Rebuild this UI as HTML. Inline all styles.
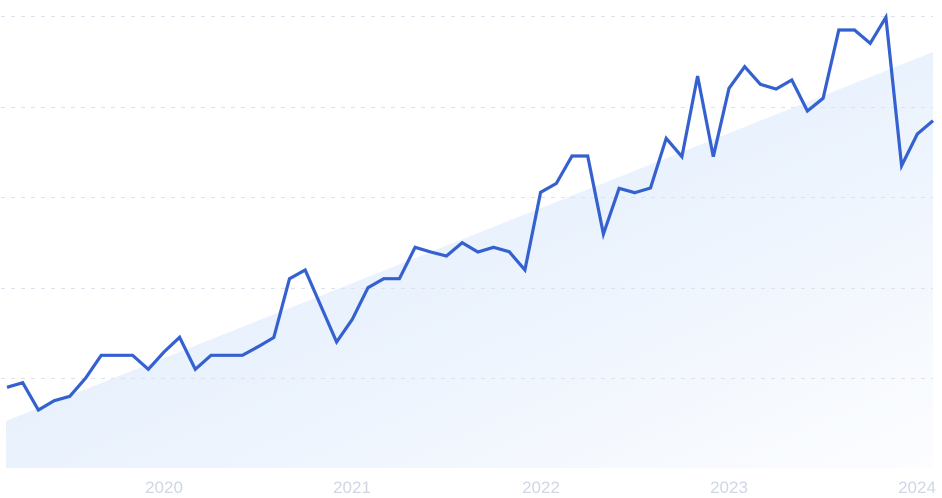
<!DOCTYPE html>
<html>
<head>
<meta charset="utf-8">
<style>
  html,body{margin:0;padding:0;background:#fff;}
  body{width:942px;height:498px;overflow:hidden;}
  svg{display:block;}
  text{font-family:"Liberation Sans",sans-serif;font-size:17px;fill:#cfd6e4;}
</style>
</head>
<body>
<svg width="942" height="498" viewBox="0 0 942 498" xmlns="http://www.w3.org/2000/svg">
  <defs>
    <linearGradient id="ag" x1="0" y1="0" x2="1" y2="1">
      <stop offset="0" stop-color="#dfeafb"/>
      <stop offset="0.5" stop-color="#eaf2fd"/>
      <stop offset="1" stop-color="#fcfdff"/>
    </linearGradient>
  </defs>
  <polygon points="6,421 933,52 933,468 6,468" fill="url(#ag)"/>
  <g stroke="#dce2ec" stroke-width="1" stroke-dasharray="4 6">
    <line x1="1" y1="16.5" x2="933" y2="16.5"/>
    <line x1="1" y1="107.5" x2="933" y2="107.5"/>
    <line x1="1" y1="197.5" x2="933" y2="197.5"/>
    <line x1="1" y1="288.5" x2="933" y2="288.5"/>
    <line x1="1" y1="378.5" x2="933" y2="378.5"/>
  </g>
  <polyline fill="none" stroke="#3461cf" stroke-width="3.2" stroke-linejoin="miter" stroke-miterlimit="4"
    points="7,387.3 22.7,382.7 38.4,410 54.1,400.7 69.8,396.3 85.5,378.3 101.2,355.3 116.9,355.3 132.6,355.3 148.3,369.3 164,352 179.6,337.3 195.3,369.3 211,355.3 226.7,355.3 242.4,355.3 258.1,346.7 273.8,337.5 289.5,278.7 305.2,270 320.9,306 336.6,342 352.3,319.3 368,287.7 383.7,278.7 399.4,278.7 415.1,247.3 430.8,252 446.5,256 462.2,242.7 477.9,252 493.5,247.3 509.2,251.7 524.9,270 540.6,192.3 556.3,183.5 572,156 587.7,156 603.4,234 619.1,188.3 634.8,192.7 650.5,188 666.2,138.3 681.9,156.7 697.6,76 713.3,156.7 729,88.3 744.7,66.7 760.4,84.3 776.1,89 791.8,80 807.4,111 823.1,98.3 838.8,30 854.5,30 870.2,43.3 885.9,17.3 901.6,165.7 917.3,134 933,120.7"/>
  <text x="164" y="493" text-anchor="middle">2020</text>
  <text x="352" y="493" text-anchor="middle">2021</text>
  <text x="541" y="493" text-anchor="middle">2022</text>
  <text x="729" y="493" text-anchor="middle">2023</text>
  <text x="917" y="493" text-anchor="middle">2024</text>
</svg>
</body>
</html>
